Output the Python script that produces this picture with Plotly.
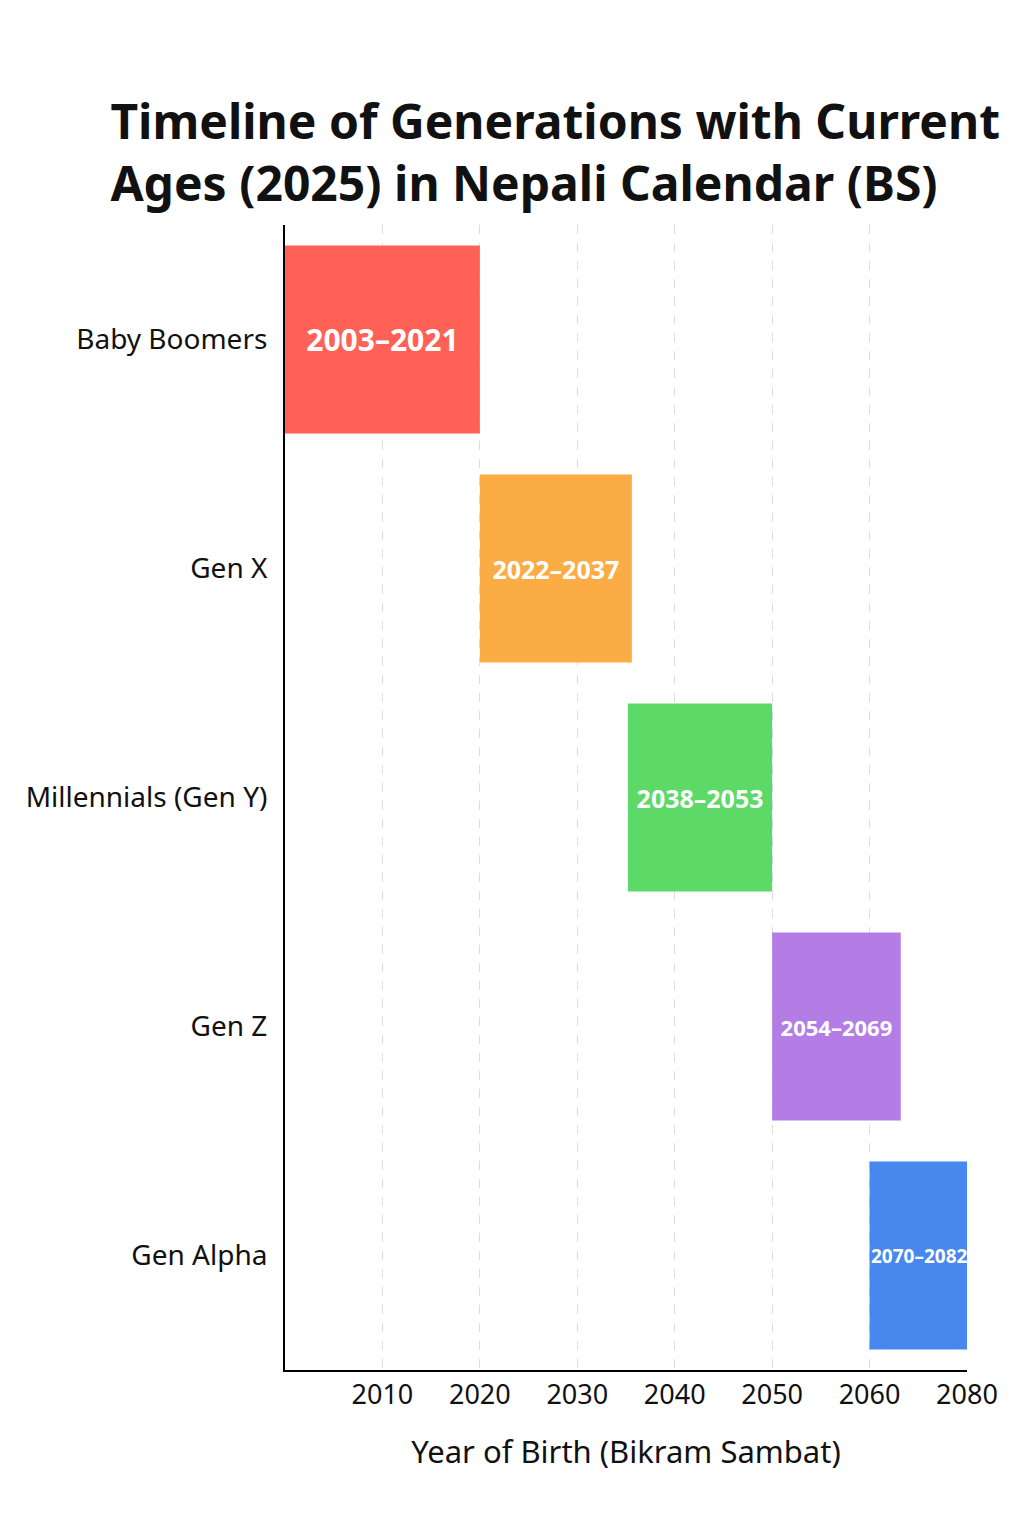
import plotly.graph_objects as go

generations = ["Baby Boomers", "Gen X", "Millennials (Gen Y)", "Gen Z", "Gen Alpha"]
start_years = [2000, 2020, 2035.2, 2050, 2060]
end_years = [2020, 2035.6, 2050, 2063.2, 2070.2]
range_labels = ["2003–2021", "2022–2037", "2038–2053", "2054–2069", "2070–2082"]
colors = ["#FF6157", "#FBAC45", "#5CD966", "#B47DE6", "#4688EE"]
label_sizes = [30, 25, 25, 22, 19]
tick_values = [2010, 2020, 2030, 2040, 2050, 2060, 2070]
tick_labels = ["2010", "2020", "2030", "2040", "2050", "2060", "2080"]

fig = go.Figure()
fig.add_trace(go.Bar(
    y=generations,
    x=[e - s for s, e in zip(start_years, end_years)],
    base=start_years,
    orientation="h",
    marker=dict(color=colors, line=dict(width=0)),
    width=0.82,
    text=range_labels,
    textposition="inside",
    insidetextanchor="middle",
    textangle=0,
    constraintext="none",
    cliponaxis=True,
    textfont=dict(color="white", size=label_sizes, family="Noto Sans"),
    texttemplate="<b>%{text}</b>",
    hoverinfo="skip",
))

fig.update_layout(
    width=1024, height=1536,
    paper_bgcolor="white", plot_bgcolor="white",
    margin=dict(l=277, r=65, t=217, b=174),
    font=dict(family="Noto Sans", color="#111"),
    title=dict(text="<b>Timeline of Generations with Current<br>Ages (2025) in Nepali Calendar (BS)</b>",
               x=0.1, xanchor="left", y=0.915, yanchor="middle",
               font=dict(size=48, color="#111")),
    showlegend=False,
    bargap=0.18,
)
fig.update_xaxes(range=[2000, 2070], tickvals=tick_values, ticktext=tick_labels,
                 showgrid=True, gridcolor="#dddddd", griddash="dash", gridwidth=1,
                 showline=True, linecolor="black", linewidth=2, ticks="",
                 tickfont=dict(size=27), zeroline=False,
                 title=dict(text="Year of Birth (Bikram Sambat)", font=dict(size=31), standoff=30))
fig.update_yaxes(autorange="reversed", showline=True, linecolor="black", linewidth=2,
                 ticks="", tickfont=dict(size=28), showgrid=False, ticklabelstandoff=10)

fig.write_html("out.html")
